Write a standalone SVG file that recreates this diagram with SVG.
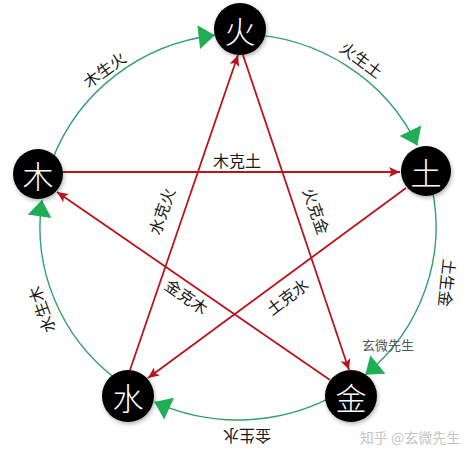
<svg xmlns="http://www.w3.org/2000/svg" width="474" height="456" viewBox="0 0 474 456">
<style>
.bg{fill:#ffffff}
.gen{fill:none;stroke:#33a06f;stroke-width:1.4}
.ke{fill:none;stroke:#b8141c;stroke-width:1.8}
.node circle{fill:#000000;filter:url(#sh)}
.node text{fill:#ffffff;font-family:"Noto Sans CJK SC","Noto Sans CJK JP",sans-serif;font-size:31px;font-weight:300;text-anchor:middle;dominant-baseline:central}
.lbl{fill:#1a1a1a;font-family:"Noto Sans CJK SC","Noto Sans CJK JP",sans-serif;font-size:16px;text-anchor:middle;dominant-baseline:central}
.wm1{fill:#555555;font-family:"Noto Sans CJK SC",sans-serif;font-size:13px;text-anchor:middle;dominant-baseline:central}
.wm2{fill:#c4c4c4;font-family:"Noto Sans CJK SC",sans-serif;font-size:14px;text-anchor:middle;dominant-baseline:central}
</style>
<defs>
<filter id="sh" x="-30%" y="-30%" width="160%" height="160%">
<feDropShadow dx="1" dy="2" stdDeviation="2" flood-color="#000" flood-opacity="0.3"/>
</filter>
<marker id="ga" markerUnits="userSpaceOnUse" markerWidth="20" markerHeight="26" viewBox="-1 -12 18 24" refX="15" refY="0" orient="auto">
<path d="M0,-11 L15,0 L0,11 Z" fill="#1fae55"/>
</marker>
<marker id="ra" markerUnits="userSpaceOnUse" markerWidth="14" markerHeight="12" viewBox="0 -6 12 12" refX="11" refY="0" orient="auto">
<path d="M0,-5 L11,0 L0,5 L2.5,0 Z" fill="#b8141c"/>
</marker>
</defs>
<rect class="bg" x="0" y="0" width="474" height="456"/>
<g id="connectors">
<path class="gen" d="M244.9,34.1 A198,193 0 0 1 417.4,145.4" marker-end="url(#ga)"/>
<path class="gen" d="M431.7,186.9 A198,193 0 0 1 365.3,374.8" marker-end="url(#ga)"/>
<path class="gen" d="M331,397.4 A198,193 0 0 1 154.3,401.9" marker-end="url(#ga)"/>
<path class="gen" d="M116.1,379.1 A198,193 0 0 1 41.9,200.1" marker-end="url(#ga)"/>
<path class="gen" d="M51.9,161 A198,193 0 0 1 214.9,35.3" marker-end="url(#ga)"/>
<line class="ke" x1="63" y1="172" x2="400" y2="172" marker-end="url(#ra)"/>
<line class="ke" x1="406" y1="188" x2="148" y2="378" marker-end="url(#ra)"/>
<line class="ke" x1="130" y1="370" x2="238" y2="55" marker-end="url(#ra)"/>
<line class="ke" x1="243" y1="55" x2="349" y2="370" marker-end="url(#ra)"/>
<line class="ke" x1="330" y1="380" x2="57" y2="192" marker-end="url(#ra)"/>
<text class="lbl" transform="translate(104,69) rotate(-36)">木生火</text>
<text class="lbl" transform="translate(362,59) rotate(37)">火生土</text>
<text class="lbl" transform="translate(448,283) rotate(96)">土生金</text>
<text class="lbl" transform="translate(247,437) rotate(180)">金生水</text>
<text class="lbl" transform="translate(41,310) rotate(-110)">水生木</text>
<text class="lbl" transform="translate(237,160)">木克土</text>
<text class="lbl" transform="translate(161,211) rotate(-71)">水克火</text>
<text class="lbl" transform="translate(317,211) rotate(71)">火克金</text>
<text class="lbl" transform="translate(187,296) rotate(35)">金克木</text>
<text class="lbl" transform="translate(287,296) rotate(-37)">土克水</text>
</g>
<g id="node-huo" class="node"><circle cx="240" cy="29" r="26"/><text x="240" y="29">火</text></g>
<g id="node-mu" class="node"><circle cx="38" cy="174" r="25"/><text x="38" y="174">木</text></g>
<g id="node-tu" class="node"><circle cx="426" cy="171" r="25"/><text x="426" y="171">土</text></g>
<g id="node-shui" class="node"><circle cx="128" cy="396" r="26"/><text x="128" y="396">水</text></g>
<g id="node-jin" class="node"><circle cx="351" cy="396" r="26"/><text x="351" y="396">金</text></g>
<text class="wm1" x="388" y="344">玄微先生</text>
<text class="wm2" x="410" y="437">知乎 @玄微先生</text>
</svg>
